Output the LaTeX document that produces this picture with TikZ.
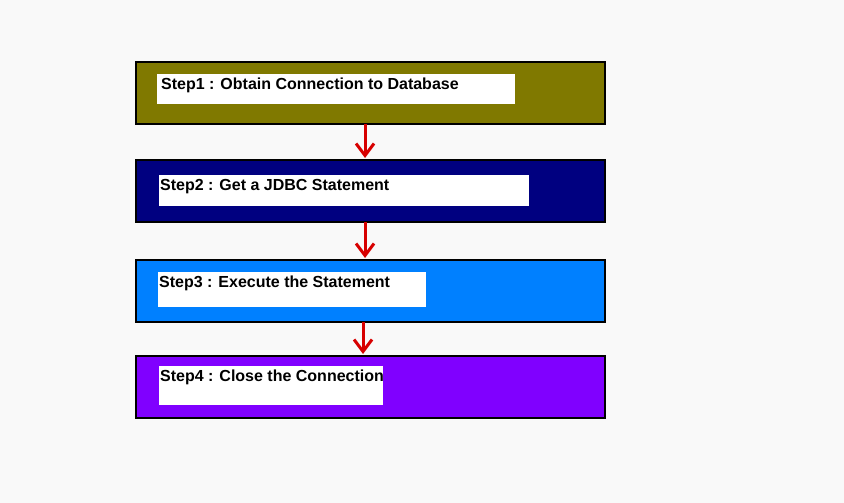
\documentclass[tikz,border=0pt]{standalone}
\usepackage{fontspec}
\setmainfont{Liberation Sans}
\usetikzlibrary{arrows.meta}
\definecolor{bgcol}{RGB}{249,249,249}
\definecolor{olivebox}{RGB}{128,121,0}
\definecolor{navybox}{RGB}{0,0,128}
\definecolor{bluebox}{RGB}{0,128,255}
\definecolor{violetbox}{RGB}{128,0,255}
\definecolor{arrowred}{RGB}{215,0,0}
\begin{document}
\begin{tikzpicture}[x=1pt,y=-1pt,
  stepbox/.style={draw=black,line width=2.5pt,minimum width=469pt,minimum height=62pt,inner sep=0pt,outer sep=0pt},
  whitebox/.style={fill=white,anchor=north west,inner sep=0pt,outer sep=0pt},
  steptext/.style={anchor=base west,inner sep=0pt,font=\fontsize{16}{19}\selectfont\bfseries},
  flow/.style={-{Straight Barb[length=12pt,width=18pt]},arrowred,line width=3pt,shorten >=2pt}]
	% 背景
	\fill[bgcol] (0,0) rectangle (844,503);
	\useasboundingbox (0,0) rectangle (844,503);
	
	% 绘制四个步骤框
	\node[stepbox,fill=olivebox] (step1) at (370.5,93) {};
	\node[stepbox,fill=navybox] (step2) at (370.5,191) {};
	\node[stepbox,fill=bluebox] (step3) at (370.5,291) {};
	\node[stepbox,fill=violetbox] (step4) at (370.5,387) {};
	
	% 白色文字框
	\node[whitebox,minimum width=358pt,minimum height=30pt] (w1) at ([shift={(21,12)}]step1.north west) {};
	\node[whitebox,minimum width=370pt,minimum height=31pt] (w2) at ([shift={(23,15)}]step2.north west) {};
	\node[whitebox,minimum width=268pt,minimum height=35pt] (w3) at ([shift={(22,12)}]step3.north west) {};
	\node[whitebox,minimum width=224pt,minimum height=39pt] (w4) at ([shift={(23,10)}]step4.north west) {};
	
	% 添加文字
	\node[steptext] (t1) at ([shift={(4,15)}]w1.north west) {Step1 : Obtain Connection to Database};
	\node[steptext] (t2) at ([shift={(1,15)}]w2.north west) {Step2 : Get a JDBC Statement};
	\node[steptext] (t3) at ([shift={(1,15)}]w3.north west) {Step3 : Execute the Statement};
	\node[steptext] (t4) at ([shift={(1,15)}]w4.north west) {Step4 : Close the Connection};
	
	% 绘制箭头
	\draw[flow] ([xshift=-5.5]step1.south) -- ([xshift=-5.5]step2.north);
	\draw[flow] ([xshift=-5.5]step2.south) -- ([xshift=-5.5]step3.north);
	\draw[flow] ([xshift=-7.5]step3.south) -- ([xshift=-7.5]step4.north);
\end{tikzpicture}
\end{document}
